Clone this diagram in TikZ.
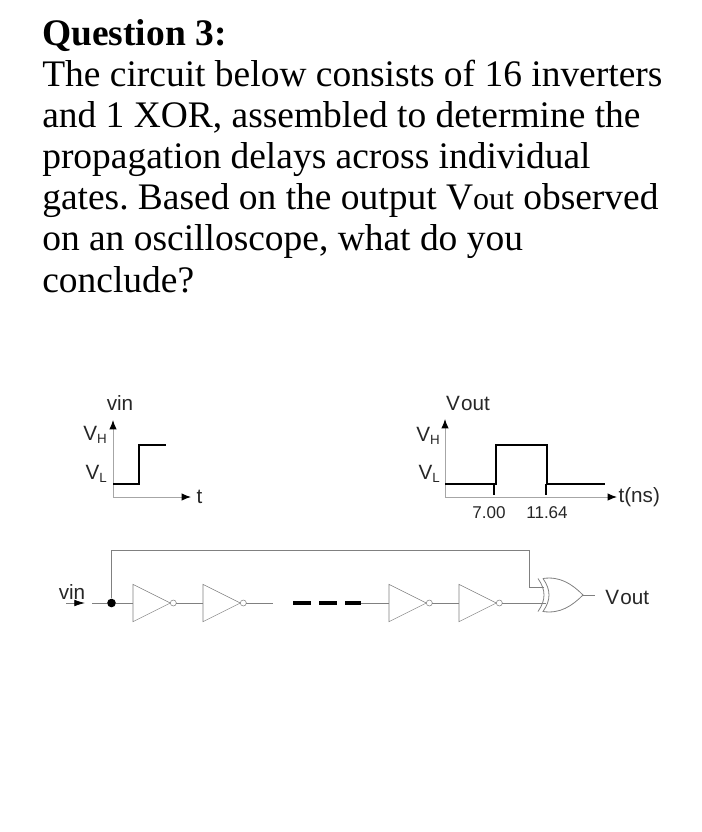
\documentclass[tikz,border=0pt]{standalone}
\usepackage{fontspec}
\setmainfont{Liberation Serif}
\newfontfamily\labelfont{Liberation Sans}
\usetikzlibrary{shapes.geometric}
\usetikzlibrary{positioning}
\usetikzlibrary{arrows.meta}
\definecolor{wiregray}{gray}{0.5}
\definecolor{axisgray}{gray}{0.65}
\frenchspacing
\tikzstyle{question} = [anchor = base west, inner sep = 0pt, text = black, font = \fontsize{28.1}{32}\selectfont]
\tikzstyle{label} = [inner sep = 0pt, text = black!85, font = \labelfont\fontsize{15.5}{18}\selectfont]
\tikzstyle{small} = [inner sep = 0pt, text = black!85, font = \labelfont\fontsize{12.8}{15}\selectfont]
\tikzstyle{inv} = [draw = wiregray, isosceles triangle, isosceles triangle stretches, shape border rotate = 0, inner sep = 0pt, outer sep = 0pt, minimum width = 28pt, minimum height = 28pt]
\tikzstyle{bubble} = [draw = wiregray, circle, inner sep = 0pt, outer sep = 0pt, minimum size = 4.5pt]
\tikzstyle{wire} = [draw = wiregray, line width = 0.6pt]
\tikzstyle{axis} = [draw = axisgray, line width = 0.7pt, -{Latex[black, length = 7pt, width = 5.5pt]}]
\tikzstyle{signal} = [draw = black, line width = 1.5pt]
\tikzstyle{gapdash} = [draw = black, line width = 2.6pt]
\begin{document}
\begin{tikzpicture}[x = 0.75pt, y = -0.75pt]
	\useasboundingbox (0, 0) rectangle (702, 832);
	
	% Question text
	\node[question] (q0) at (42, 45) {\bfseries Question 3:};
	\node[question] (q1) at (42, 86) {The circuit below consists of 16 inverters};
	\node[question] (q2) at (42, 127) {and 1 XOR, assembled to determine the};
	\node[question] (q3) at (42, 168) {propagation delays across individual};
	\node[question] (q4) at (42, 209) {gates. Based on the output V{\fontsize{24}{24}\selectfont out} observed};
	\node[question] (q5) at (42, 250) {on an oscilloscope, what do you};
	\node[question] (q6) at (42, 292) {conclude?};
	
	% Input plot
	\coordinate (o1) at (113, 497);
	\coordinate (y1) at (113, 420);
	\coordinate (x1) at (191, 497);
	\draw[axis] (o1) -- (y1);
	\draw[axis] (o1) -- (x1);
	\coordinate (a1) at (113, 484);
	\coordinate (b1) at (139, 484);
	\coordinate (c1) at (139, 445);
	\coordinate (d1) at (166, 445);
	\draw[signal] (a1) -- (b1) -- (c1) -- (d1);
	\node[label] (vin1) at (120, 403) {vin};
	\node[label, anchor = east] (vh1) at (107, 435) {V{\fontsize{10}{12}\selectfont\raisebox{-2pt}{H}}};
	\node[label, anchor = east] (vl1) at (107, 474) {V{\fontsize{10}{12}\selectfont\raisebox{-2pt}{L}}};
	\node[label, right = 4pt of x1] (t1) {t};
	
	% Output plot
	\coordinate (o2) at (445, 497);
	\coordinate (y2) at (445, 419);
	\coordinate (x2) at (617, 497);
	\draw[axis] (o2) -- (y2);
	\draw[axis] (o2) -- (x2);
	\coordinate (a2) at (445, 484);
	\coordinate (b2) at (495.5, 484);
	\coordinate (c2) at (495.5, 445);
	\coordinate (d2) at (546.5, 445);
	\coordinate (e2) at (546.5, 484);
	\coordinate (f2) at (605, 484);
	\draw[signal] (a2) -- (b2) -- (c2) -- (d2) -- (e2) -- (f2);
	\coordinate (t700) at (494, 495);
	\coordinate (t1164) at (546, 495);
	\draw[signal] (494, 484) -- (t700);
	\draw[signal] (546, 484) -- (t1164);
	\node[label] (vout2) at (468, 403) {V\kern 1pt out};
	\node[label, anchor = east] (vh2) at (440, 436) {V{\fontsize{10}{12}\selectfont\raisebox{-2pt}{H}}};
	\node[label, anchor = east] (vl2) at (440, 474) {V{\fontsize{10}{12}\selectfont\raisebox{-2pt}{L}}};
	\node[label, right = 1pt of x2] (tns) {t(ns)};
	\node[small] (l700) at (489, 513) {7.00};
	\node[small] (l1164) at (547, 513) {11.64};
	
	% Inverter chain
	\node[inv, anchor = lower side] (inv1) at (133, 603) {};
	\node[bubble, right = 0pt of inv1.apex] (bub1) {};
	\node[inv, right = 20pt of bub1] (inv2) {};
	\node[bubble, right = 0pt of inv2.apex] (bub2) {};
	\node[inv, anchor = lower side] (inv3) at (389, 603) {};
	\node[bubble, right = 0pt of inv3.apex] (bub3) {};
	\node[inv, right = 20pt of bub3] (inv4) {};
	\node[bubble, right = 0pt of inv4.apex] (bub4) {};
	
	% XOR gate
	\coordinate (xortop) at (543, 578.5);
	\coordinate (xorbot) at (543, 611.5);
	\coordinate (xorout) at (583, 595);
	\coordinate (xorin1) at (544, 587);
	\coordinate (xorin2) at (546, 603);
	\draw[wire] (xortop) .. controls (560, 576) and (572, 584) .. (xorout) .. controls (572, 606) and (560, 614) .. (xorbot) .. controls (551, 600) and (551, 590) .. (xortop);
	\draw[wire] (538, 578.5) .. controls (546, 590) and (546, 600) .. (538, 611.5);
	
	% Connect all nodes defined above
	\node[fill = black, circle, inner sep = 0pt, minimum size = 6.5pt] (dot) at (111.5, 603) {};
	\node[label] (vin) at (72, 592) {vin};
	\coordinate (vinl) at (66, 603);
	\coordinate (vinr) at (85, 603);
	\coordinate (vinw) at (92, 603);
	\draw[-{Latex[black, length = 8pt, width = 5pt]}, wire] (vinl) -- (vinr);
	\draw[wire] (vinw) -- (dot) -- (inv1.lower side);
	\coordinate (fb1) at (111.5, 550.5);
	\coordinate (fb2) at (529, 550.5);
	\coordinate (fb3) at (529, 587);
	\draw[wire] (dot) -- (fb1) -- (fb2) -- (fb3) -- (xorin1);
	\draw[wire] (bub1) -- (inv2.lower side);
	\coordinate (o3) at (273, 603);
	\draw[wire] (bub2) -- (o3);
	\coordinate (g1) at (293, 603);
	\coordinate (g2) at (311, 603);
	\coordinate (g3) at (319, 603);
	\coordinate (g4) at (337, 603);
	\coordinate (g5) at (345, 603);
	\coordinate (g6) at (361, 603);
	\draw[gapdash] (g1) -- (g2);
	\draw[gapdash] (g3) -- (g4);
	\draw[gapdash] (g5) -- (g6);
	\draw[wire] (g6) -- (inv3.lower side);
	\draw[wire] (bub3) -- (inv4.lower side);
	\draw[wire] (bub4) -- (xorin2);
	\coordinate (xorend) at (595, 595);
	\draw[wire] (xorout) -- (xorend);
	\node[label, anchor = west] (vout) at (605, 597) {V\kern 1pt out};
	
\end{tikzpicture}
\end{document}
